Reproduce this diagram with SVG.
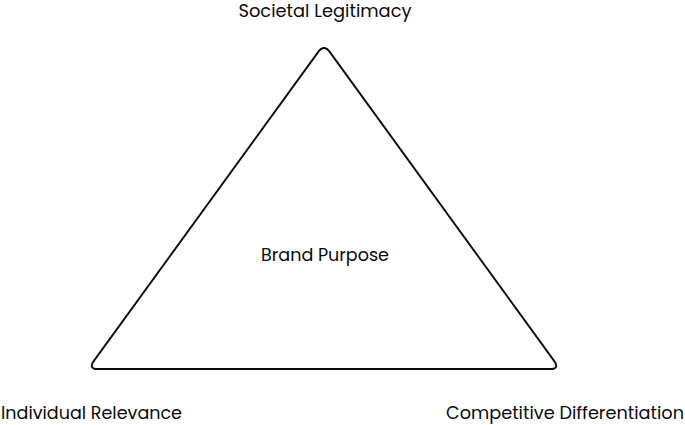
<svg xmlns="http://www.w3.org/2000/svg" width="685" height="425" viewBox="0 0 685 425">
<style>
.lbl{font-family:"Poppins","Inter","Open Sans",sans-serif;font-size:17.5px;fill:#0a0a0a}
.edge{fill:none;stroke:#0a0a0a;stroke-width:1.9;stroke-linejoin:round}
</style>
<rect width="685" height="425" fill="#fff"/>
<g id="connectors">
<path class="edge" d="M329.9,52.1 L554.1,360.9 Q560,369 550,369 L98,369 Q88,369 93.9,360.9 L318.1,52.1 Q324,44 329.9,52.1 Z"/>
</g>
<g id="node-societal"><text class="lbl" x="325" y="17" text-anchor="middle" textLength="173" lengthAdjust="spacingAndGlyphs">Societal Legitimacy</text></g>
<g id="node-brand"><text class="lbl" x="325" y="261" text-anchor="middle" textLength="128" lengthAdjust="spacingAndGlyphs">Brand Purpose</text></g>
<g id="node-individual"><text class="lbl" x="1" y="419" textLength="181" lengthAdjust="spacingAndGlyphs">Individual Relevance</text></g>
<g id="node-competitive"><text class="lbl" x="446" y="419" textLength="238" lengthAdjust="spacingAndGlyphs">Competitive Differentiation</text></g>
</svg>
